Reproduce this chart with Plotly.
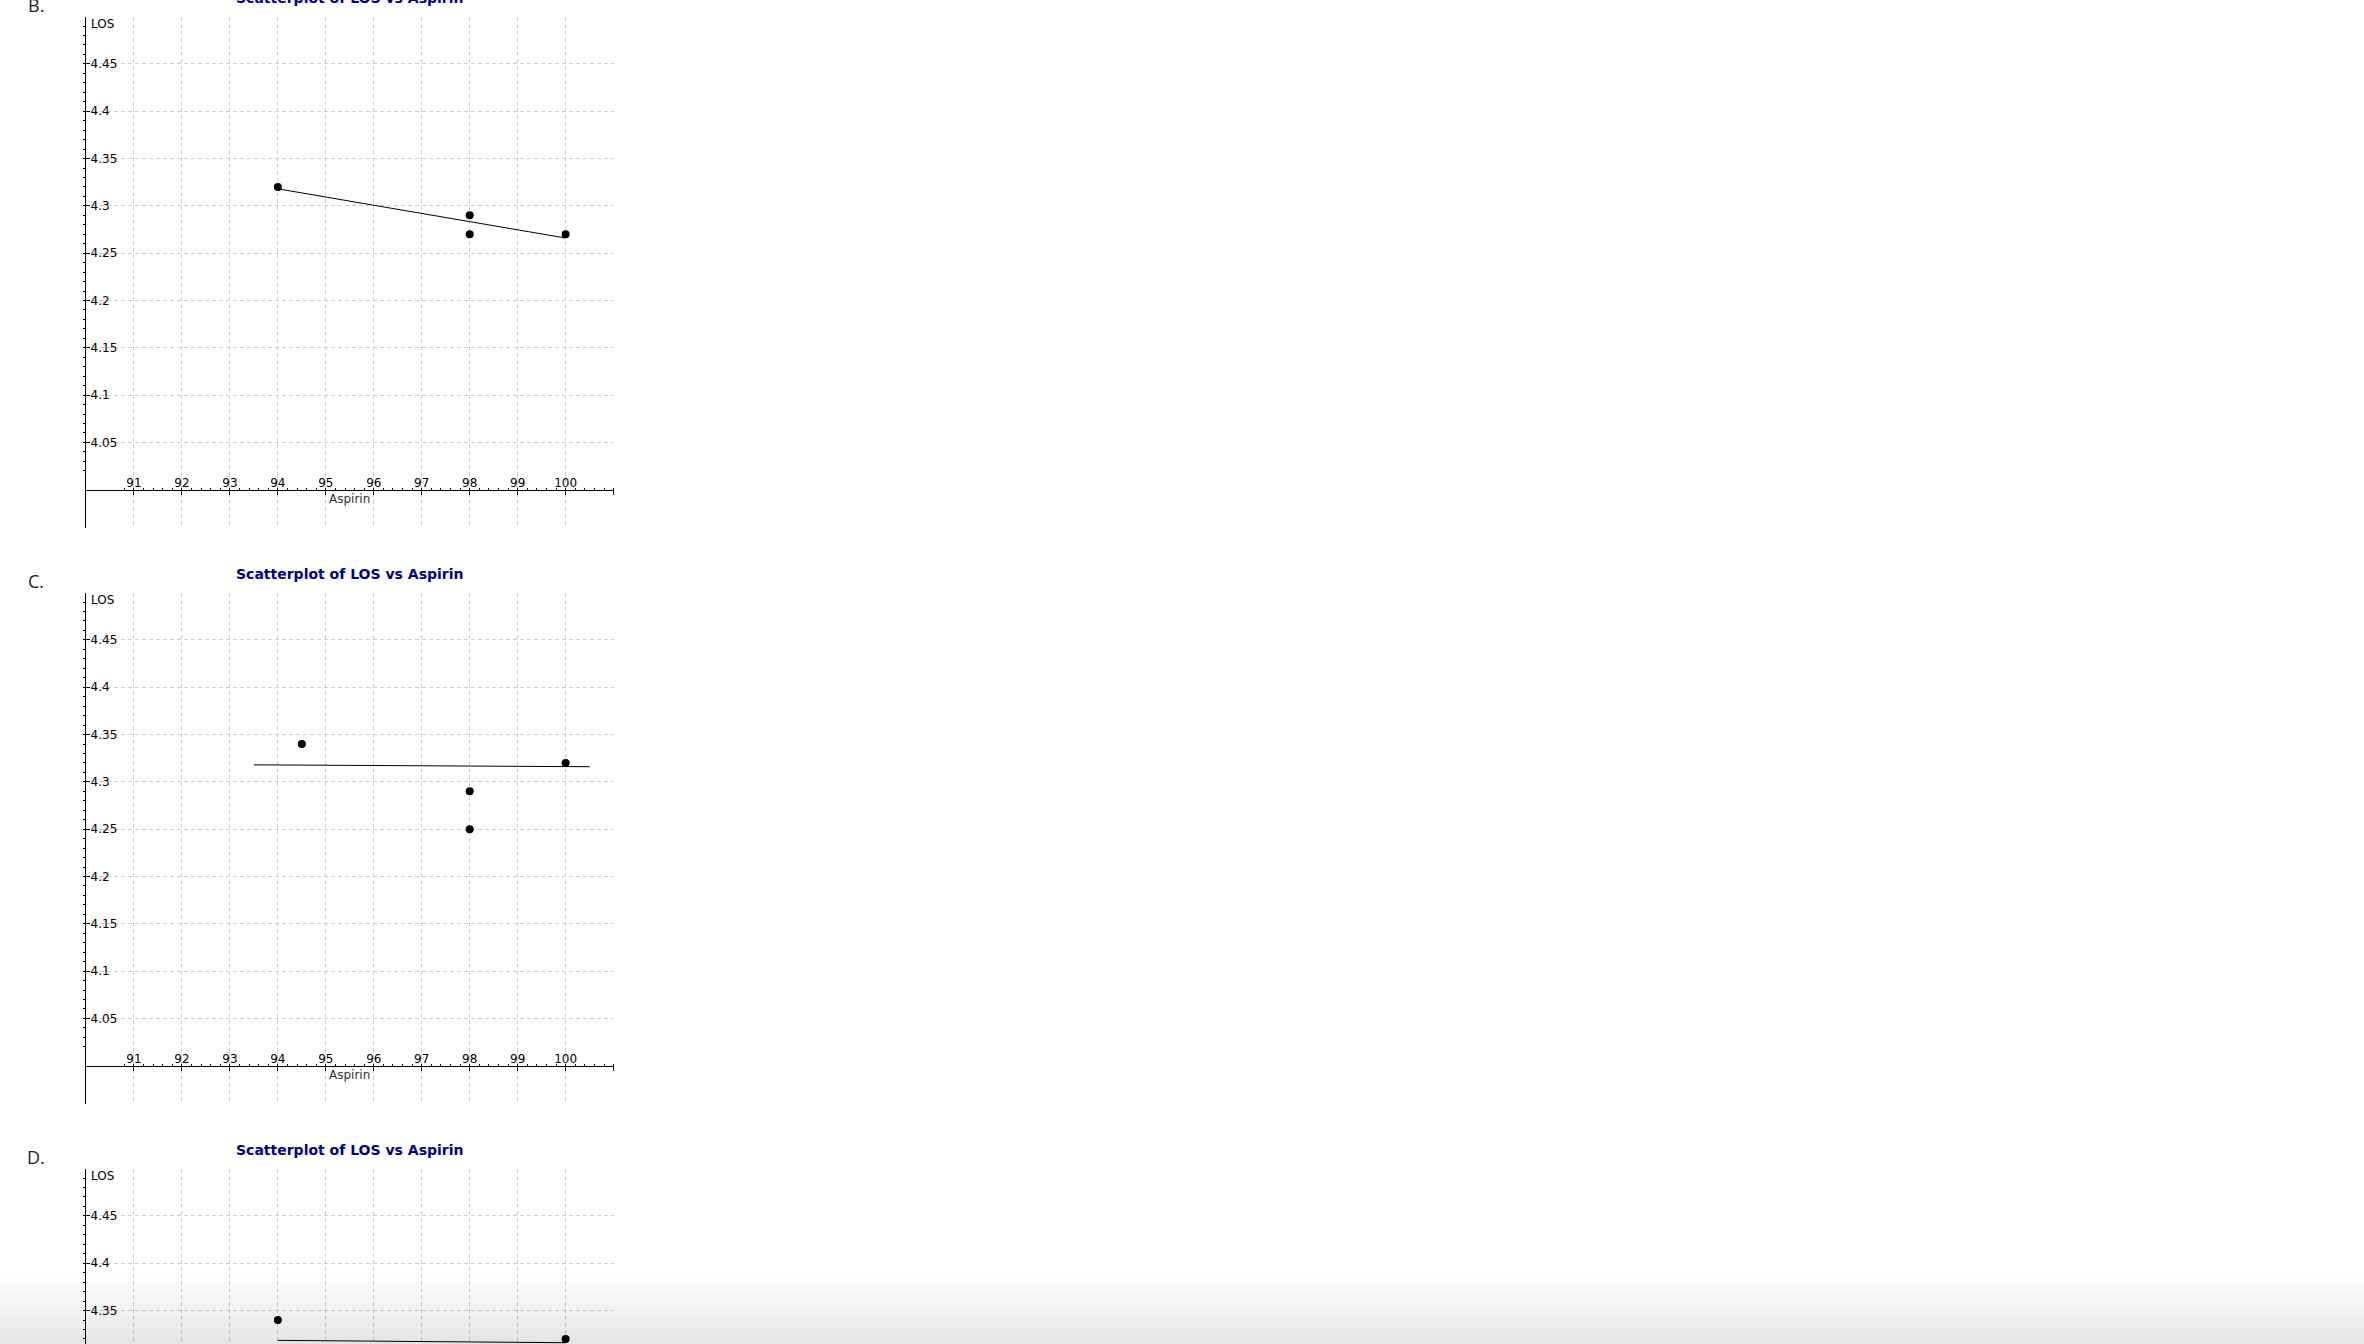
import plotly.graph_objects as go

# ---- data ----
# panel B
b_aspirin = [94, 98, 98, 100]
b_los = [4.32, 4.29, 4.27, 4.27]
b_line_aspirin = [94, 100]
b_line_los = [4.318, 4.266]

# panel C
c_aspirin = [94.5, 98, 98, 100]
c_los = [4.34, 4.29, 4.25, 4.32]
c_line_aspirin = [93.5, 100.5]
c_line_los = [4.318, 4.316]

# panel D (only its top part is on screen)
d_aspirin = [94, 100]
d_los = [4.34, 4.32]
d_line_aspirin = [94, 100]
d_line_los = [4.3185, 4.316]

panel_labels = ["B.", "C.", "D."]
chart_title = "Scatterplot of LOS vs Aspirin"
x_title = "Aspirin"
y_title = "LOS"

x_tick_vals = [90, 91, 92, 93, 94, 95, 96, 97, 98, 99, 100, 101]
x_tick_text = ["", "91", "92", "93", "94", "95", "96", "97", "98", "99", "100", ""]
y_tick_vals = [4.0, 4.05, 4.1, 4.15, 4.2, 4.25, 4.3, 4.35, 4.4, 4.45, 4.5]
y_tick_text = ["", "4.05", "4.1", "4.15", "4.2", "4.25", "4.3", "4.35", "4.4", "4.45", ""]

panels = [
    (b_aspirin, b_los, b_line_aspirin, b_line_los),
    (c_aspirin, c_los, c_line_aspirin, c_line_los),
    (d_aspirin, d_los, d_line_aspirin, d_line_los),
]

# ---- page geometry (pixels) ----
W, H = 2364, 1344
LEFT, RIGHT = 86, 613.6
TOPS = [16.6, 592.6, 1168.6]
PLOT_H = 511
X_RANGE = [90, 101]
Y_MIN, Y_MAX = 3.96, 4.5
X_CROSS = 4.0  # the x axis crosses the y axis here
GRID = "#cccccc"
TICK_FONT = dict(family="DejaVu Sans", size=12, color="black")

fig = go.Figure()
layout = {}
annotations = []

for i, (xs, ys, lx, ly) in enumerate(panels):
    n = "" if i == 0 else str(i + 1)
    top = TOPS[i]
    bottom = top + PLOT_H
    per_unit = PLOT_H / (Y_MAX - Y_MIN)
    y_lo = Y_MIN
    if bottom > H:
        y_lo = Y_MAX - (H - top) / per_unit
        bottom = H
    axis_px = top + (Y_MAX - X_CROSS) * per_unit
    show_x = axis_px < H

    fig.add_trace(go.Scatter(x=lx, y=ly, mode="lines", line=dict(color="black", width=1),
                             xaxis="x" + n, yaxis="y" + n, showlegend=False, hoverinfo="skip"))
    fig.add_trace(go.Scatter(x=xs, y=ys, mode="markers", marker=dict(color="black", size=8),
                             xaxis="x" + n, yaxis="y" + n, showlegend=False))

    layout["xaxis" + n] = dict(
        domain=[LEFT / W, RIGHT / W], range=X_RANGE, anchor="free",
        position=max(1 - axis_px / H, 0),
        tickmode="array", tickvals=x_tick_vals, ticktext=x_tick_text,
        ticks="outside" if show_x else "", ticklen=4, tickcolor="black",
        ticklabelposition="inside", showticklabels=show_x, tickfont=TICK_FONT,
        showline=show_x, linecolor="black", linewidth=1,
        showgrid=True, gridcolor=GRID, gridwidth=1, griddash="4px,3px",
        zeroline=False, fixedrange=True,
        minor=dict(tick0=90, dtick=0.2, ticks="inside" if show_x else "",
                   ticklen=2, tickcolor="black", showgrid=False),
    )
    layout["yaxis" + n] = dict(
        domain=[1 - bottom / H, 1 - top / H], range=[y_lo, Y_MAX], anchor="x" + n,
        tickmode="array", tickvals=y_tick_vals, ticktext=y_tick_text,
        ticks="inside", ticklen=4, tickcolor="black",
        ticklabelposition="inside", tickfont=TICK_FONT,
        showline=True, linecolor="black", linewidth=1,
        showgrid=True, gridcolor=GRID, gridwidth=1, griddash="4px,3px",
        zeroline=False, fixedrange=True,
        minor=dict(tick0=4.0, dtick=0.01, ticks="outside", ticklen=2,
                   tickcolor="black", showgrid=False),
    )

    annotations.append(dict(text=panel_labels[i], x=36 / W, y=1 - (top - 11.5) / H,
                            xref="paper", yref="paper", xanchor="center", yanchor="middle",
                            showarrow=False, font=dict(family="Open Sans", size=18, color="#222222")))
    annotations.append(dict(text="<b>" + chart_title + "</b>", x=(LEFT + RIGHT) / 2 / W,
                            y=1 - (top - 18.3) / H, xref="paper", yref="paper",
                            xanchor="center", yanchor="middle", showarrow=False,
                            font=dict(family="DejaVu Sans", size=14, color="#000080")))
    annotations.append(dict(text=y_title, x=(LEFT + 3) / W, y=1 - (top + 7.2) / H,
                            xref="paper", yref="paper", xanchor="left", yanchor="middle",
                            showarrow=False, font=TICK_FONT))
    if show_x:
        annotations.append(dict(text=x_title, x=(LEFT + RIGHT) / 2 / W, y=1 - (axis_px + 9.6) / H,
                                xref="paper", yref="paper", xanchor="center", yanchor="middle",
                                showarrow=False, font=dict(family="DejaVu Sans", size=12, color="#333333")))

# faint grey fade at the bottom of the page
shapes = []
steps = 16
for k in range(steps):
    y0 = 1276 + k * 4.25
    shapes.append(dict(type="rect", xref="paper", yref="paper", x0=0, x1=1,
                       y0=1 - (y0 + 4.25) / H, y1=1 - y0 / H, fillcolor="black",
                       opacity=0.1 * (k + 1) / steps, line=dict(width=0), layer="above"))

fig.update_layout(
    width=W, height=H, autosize=False,
    margin=dict(l=0, r=0, t=0, b=0, pad=0),
    paper_bgcolor="white", plot_bgcolor="white",
    annotations=annotations, shapes=shapes,
    **layout,
)

fig.write_html("out.html", config={"displayModeBar": False},
               post_script="document.body.style.margin='0';document.body.style.overflow='hidden';")
